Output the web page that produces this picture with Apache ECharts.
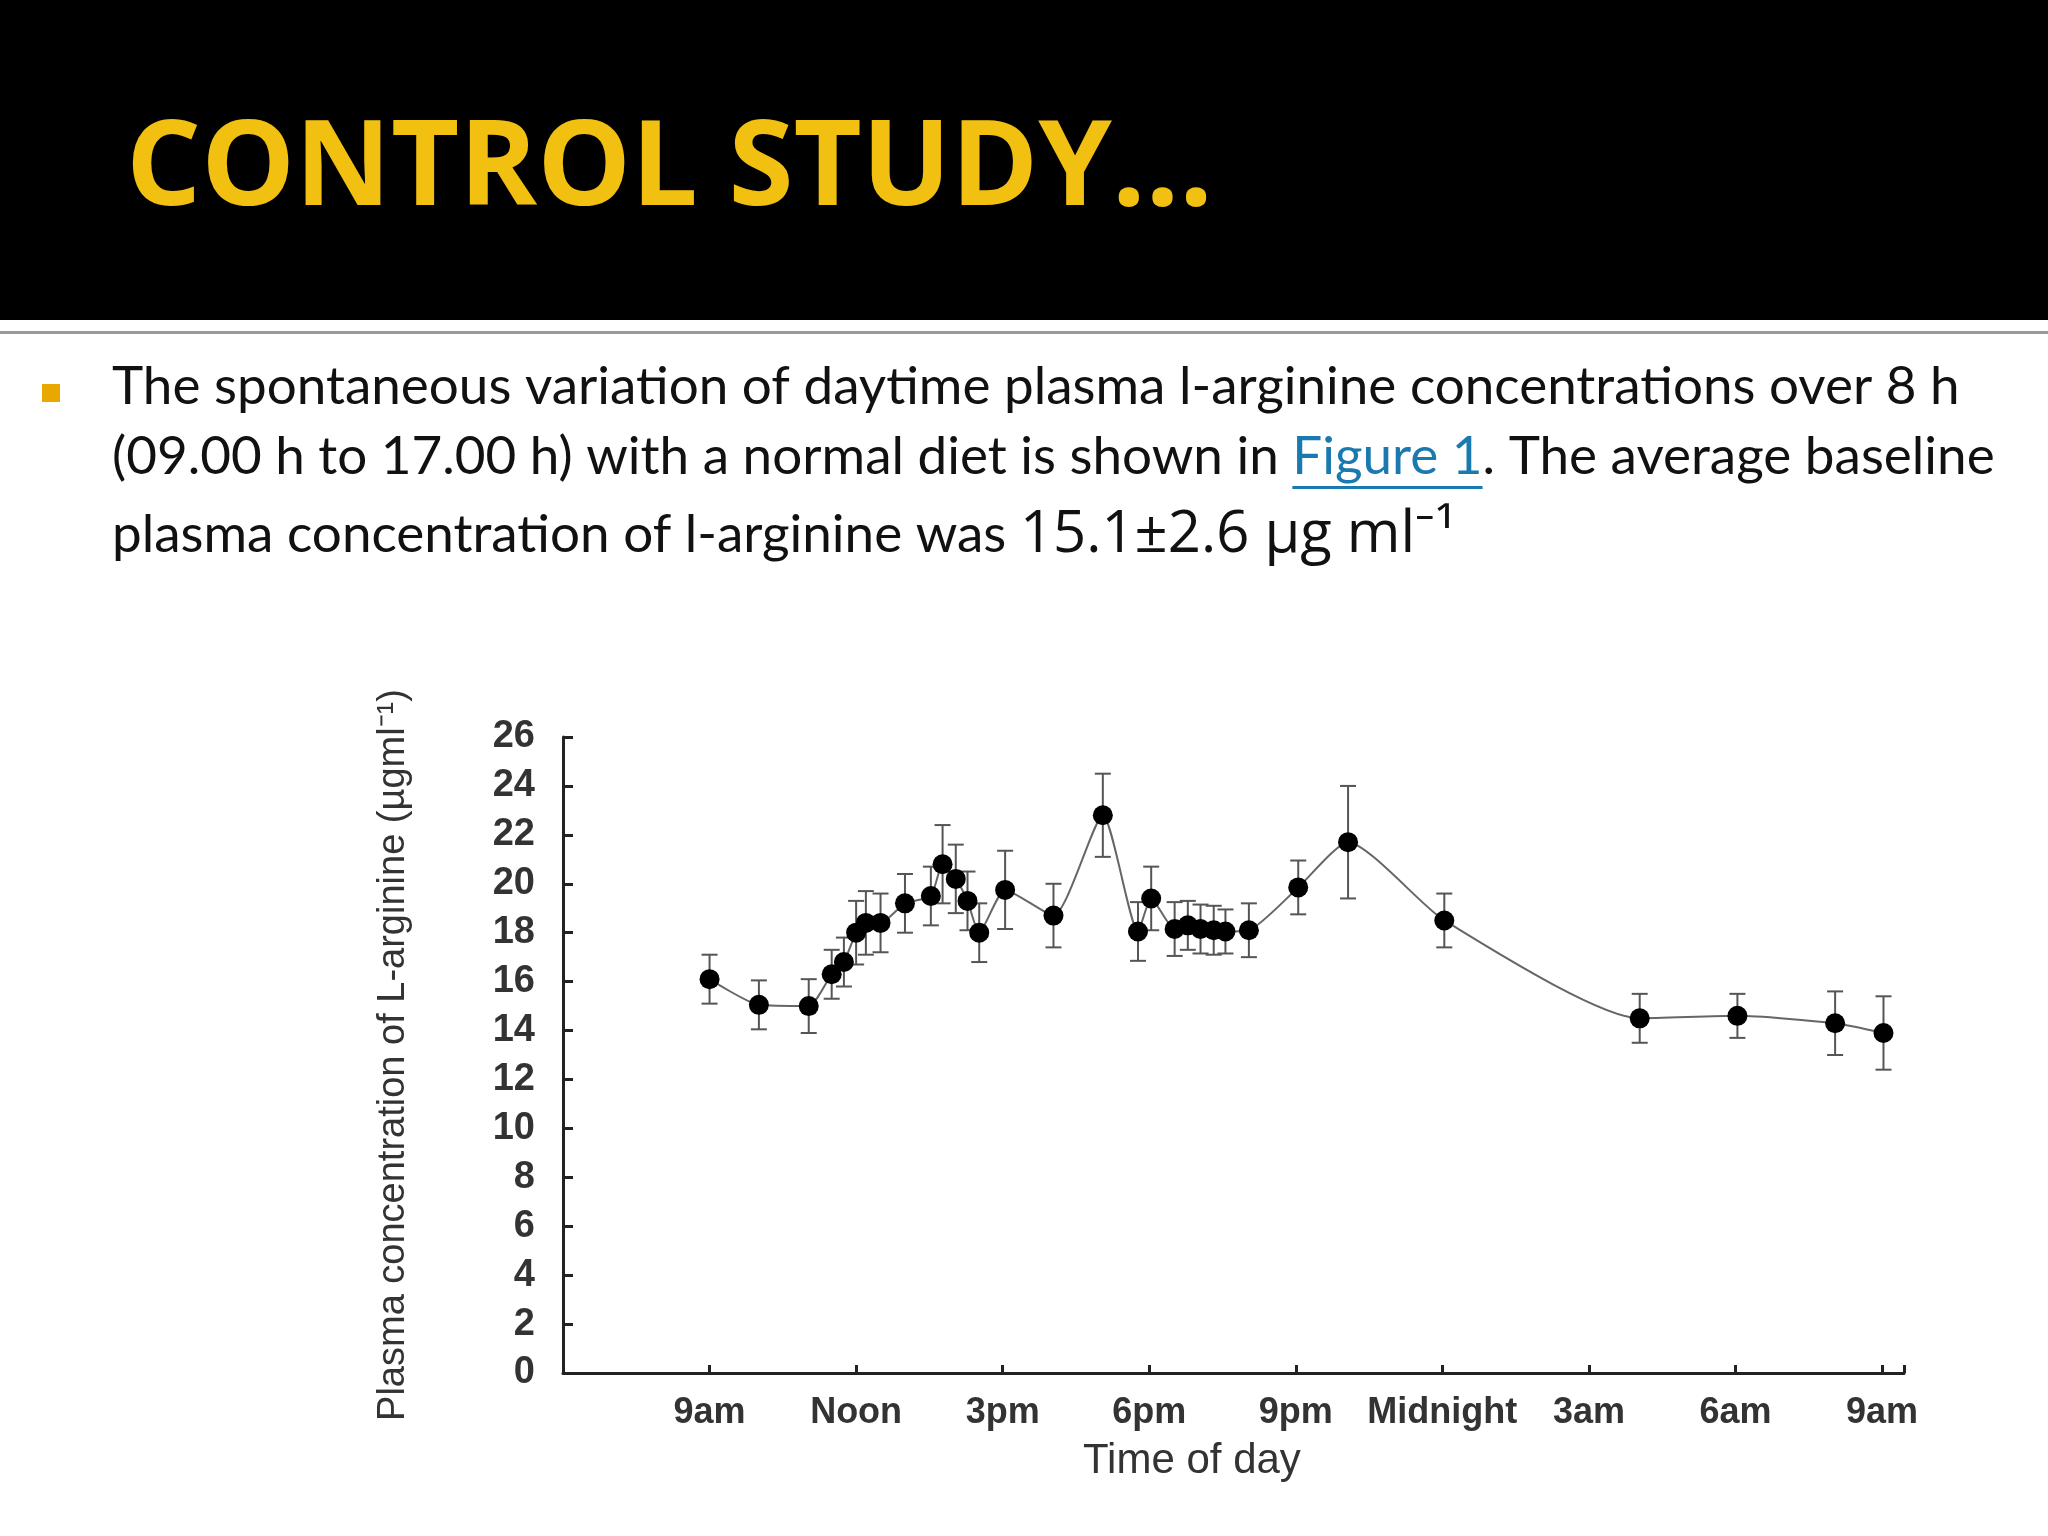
<!DOCTYPE html>
<html><head><meta charset="utf-8">
<script src="https://cdn.jsdelivr.net/npm/echarts@6/dist/echarts.min.js"></script>
<style>html,body{margin:0;padding:0;background:#fff}#c{width:2048px;height:1536px}</style>
</head><body><div id="c"></div>
<script>
const hours = [0,1.01,2.03,2.5,2.75,3,3.2,3.5,4,4.53,4.77,5.04,5.28,5.52,6.05,7.04,8.05,8.77,9.04,9.52,9.79,10.05,10.32,10.56,11.04,12.05,13.07,15.04,19.04,21.04,23.04,24.03];
const values = [16.1,15.05,15.0,16.3,16.8,18.0,18.4,18.4,19.2,19.5,20.8,20.2,19.3,18.0,19.75,18.7,22.8,18.05,19.4,18.15,18.3,18.15,18.1,18.05,18.1,19.85,21.7,18.5,14.5,14.6,14.3,13.9];
const errors = [1.0,1.0,1.1,1.0,1.0,1.3,1.3,1.2,1.2,1.2,1.6,1.4,1.2,1.2,1.6,1.3,1.7,1.2,1.3,1.1,1.0,1.0,1.0,0.9,1.1,1.1,2.3,1.1,1.0,0.9,1.3,1.5];
const tickLabels = {0:'9am',3:'Noon',6:'3pm',9:'6pm',12:'9pm',15:'Midnight',18:'3am',21:'6am',24:'9am'};
const pts = hours.map((h,i)=>[h,values[i]]);
const bars = hours.map((h,i)=>[h,values[i]-errors[i],values[i]+errors[i]]);
const chart = echarts.init(document.getElementById('c'));
const f = 'Liberation Sans, Arial, sans-serif';
const bf = '53px Lato, "Open Sans", sans-serif';
const mc = document.createElement('canvas').getContext('2d');
mc.font = bf;
const pre = '(09.00 h to 17.00 h) with a normal diet is shown in ';
const ux = 112 + mc.measureText(pre).width, uw = mc.measureText('Figure 1').width;
chart.setOption({
  animation:false,
  graphic:[
    {type:'rect',shape:{x:0,y:0,width:2048,height:320},style:{fill:'#000'}},
    {type:'rect',shape:{x:0,y:331,width:2048,height:3},style:{fill:'#999'}},
    {type:'text',left:126,top:112,style:{text:'CONTROL STUDY…',fill:'#f2c011',font:'bold 118px "Open Sans", Lato, sans-serif'}},
    {type:'rect',shape:{x:42,y:384,width:18,height:18},style:{fill:'#e8a800'}},
    {type:'text',left:112,top:360,style:{text:'The spontaneous variation of daytime plasma l-arginine concentrations over 8 h',fill:'#111',font:bf}},
    {type:'text',left:112,top:430,style:{rich:{a:{fill:'#111',font:bf},l:{fill:'#1a7ab0',font:bf}},text:'{a|'+pre+'}{l|Figure 1}{a|. The average baseline}'}},
    {type:'rect',shape:{x:ux,y:486,width:uw,height:3},style:{fill:'#1a7ab0'}},
    {type:'text',left:112,top:506,style:{rich:{a:{fill:'#111',font:bf},b:{fill:'#111',font:'58px "Open Sans", sans-serif'}},text:'{a|plasma concentration of l-arginine was }{b|15.1±2.6 μg ml⁻¹}'}},
    {type:'text',left:1083,top:1440,style:{text:'Time of day',fill:'#333',font:'42px '+f}}
  ],
  grid:{left:563,right:2048-1904,top:737,bottom:1536-1373},
  xAxis:{type:'value',min:-3,max:24.45,interval:3,
    axisLine:{lineStyle:{color:'#222',width:3}},
    axisTick:{inside:true,length:8,lineStyle:{color:'#222',width:3}},
    splitLine:{show:false},
    axisLabel:{formatter:v=>tickLabels[v]||'',color:'#333',fontSize:36,fontFamily:f,fontWeight:'bold',margin:22}},
  yAxis:{type:'value',min:0,max:26,interval:2,name:'Plasma concentration of L-arginine (µgml⁻¹)',
    nameLocation:'middle',nameGap:150,nameTextStyle:{color:'#333',fontSize:38,fontFamily:f},
    axisLine:{onZero:false,lineStyle:{color:'#222',width:3}},
    axisTick:{inside:true,length:10,lineStyle:{color:'#222',width:3}},
    splitLine:{show:false},
    axisLabel:{color:'#333',fontSize:38,fontFamily:f,fontWeight:'bold',margin:28}},
  series:[
    {type:'custom',data:bars,z:1,renderItem:(p,api)=>{
      const x=api.value(0),lo=api.coord([x,api.value(1)]),hi=api.coord([x,api.value(2)]);
      const s={stroke:'#555',lineWidth:2};
      return {type:'group',children:[
        {type:'line',shape:{x1:lo[0],y1:lo[1],x2:hi[0],y2:hi[1]},style:s},
        {type:'line',shape:{x1:lo[0]-8,y1:lo[1],x2:lo[0]+8,y2:lo[1]},style:s},
        {type:'line',shape:{x1:hi[0]-8,y1:hi[1],x2:hi[0]+8,y2:hi[1]},style:s}]};
    }},
    {type:'line',data:pts,z:3,smooth:0.2,symbol:'circle',symbolSize:20,
      lineStyle:{color:'#666',width:2},itemStyle:{color:'#000'}}
  ]
});
</script></body></html>
